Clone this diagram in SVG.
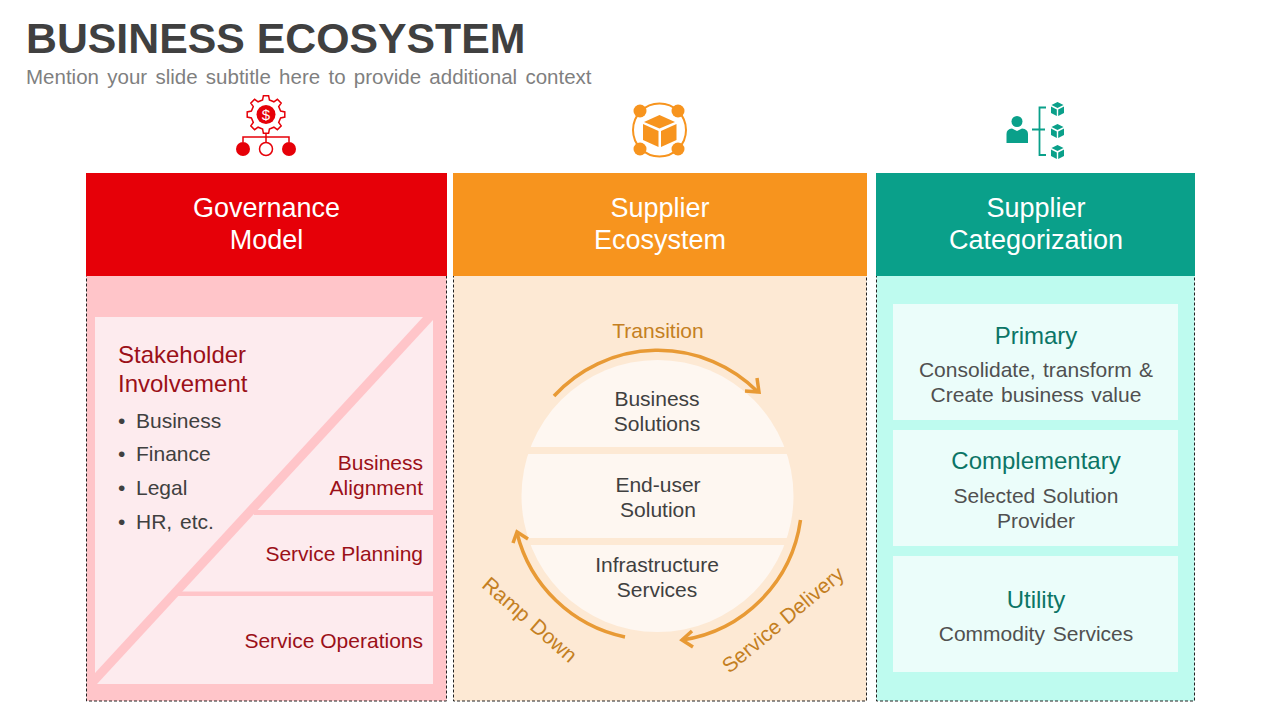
<svg xmlns="http://www.w3.org/2000/svg" xmlns:xlink="http://www.w3.org/1999/xlink" width="1280" height="720" viewBox="0 0 1280 720">
<style>
text{font-family:"Liberation Sans",Arial,sans-serif}
.hd{font-size:27px;fill:#fff;text-anchor:middle}
.dash{stroke:#222;stroke-width:1;stroke-dasharray:3 2;fill:none}
.red{fill:#9B1018}
.redr{fill:#9B1018;font-size:21px;text-anchor:end}
.body{fill:#404040;font-size:21px}
.mid{text-anchor:middle}
.teal{fill:#0B7566;font-size:24px;text-anchor:middle}
.tbody{fill:#505050;font-size:21px;text-anchor:middle}
.orl{fill:#C47F22;font-size:21px}
.arc{fill:none;stroke:#E89A35;stroke-width:3.500}
.band{fill:#FFC5C9}
.disc{fill:#FEF7F1}
</style>
<defs>
<g id="cube" fill="#0AA08A">
<polygon points="0,-7 6,-4 0,-1 -6,-4"/>
<polygon points="-6.5,-2.5 -0.7,0.5 -0.7,7 -6.5,4"/>
<polygon points="6.5,-2.5 0.7,0.5 0.7,7 6.5,4"/>
</g>
</defs>
<rect width="1280" height="720" fill="#fff"/>
<g id="title">
<text x="26" y="53" font-size="42.800" font-weight="700" fill="#404040">BUSINESS ECOSYSTEM</text>
<text x="26" y="84" font-size="20.500" fill="#7F7F7F" word-spacing="2.600">Mention your slide subtitle here to provide additional context</text>
</g>
<g id="icon-governance">
<polygon transform="translate(266,114.500)" fill="none" stroke="#E60008" stroke-width="1.500" points="14.6,-3.4 18.8,-2.6 18.8,2.6 14.6,3.4 12.7,7.9 15.2,11.4 11.4,15.2 7.9,12.7 3.4,14.600 2.6,18.800 -2.600,18.800 -3.400,14.600 -7.900,12.700 -11.400,15.200 -15.200,11.400 -12.700,7.900 -14.600,3.400 -18.800,2.600 -18.800,-2.600 -14.600,-3.400 -12.700,-7.900 -15.200,-11.400 -11.400,-15.200 -7.900,-12.700 -3.400,-14.600 -2.600,-18.800 2.600,-18.800 3.400,-14.600 7.900,-12.700 11.400,-15.200 15.200,-11.400 12.700,-7.900"/>
<circle cx="266" cy="114.500" r="9.500" fill="#E60008"/>
<text x="266" y="120" font-size="15" fill="#fff" text-anchor="middle">$</text>
<path d="M266 133V142M243 142V137H289V142" fill="none" stroke="#E60008" stroke-width="1.500"/>
<circle cx="243" cy="149" r="7" fill="#E60008"/>
<circle cx="266" cy="149" r="6.500" fill="#fff" stroke="#E60008" stroke-width="1.500"/>
<circle cx="289" cy="149" r="7" fill="#E60008"/>
</g>
<g id="icon-ecosystem">
<circle cx="659.500" cy="130" r="26.500" fill="none" stroke="#F7941E" stroke-width="2"/>
<g fill="#F7941E">
<circle cx="640" cy="111" r="6.500"/>
<circle cx="678" cy="111" r="6.500"/>
<circle cx="640" cy="149" r="6.500"/>
<circle cx="678" cy="149" r="6.500"/>
<polygon points="659.500,115 675,122 659.500,128.500 644,122"/>
<polygon points="643,124 658.500,131 658.500,147 643,140"/>
<polygon points="661,131 676.500,124 676.500,140 661,147"/>
</g>
</g>
<g id="icon-categorization">
<circle cx="1017" cy="121.500" r="5.500" fill="#0AA08A"/>
<path d="M1006.500 143V134Q1006.500 129 1012 128.500L1017 131L1022 128.500Q1028 129 1028 134V143Z" fill="#0AA08A"/>
<path d="M1046 107.500H1039.500V155H1046M1032 129.500H1045" fill="none" stroke="#0AA08A" stroke-width="1.800"/>
<use xlink:href="#cube" href="#cube" x="1057.500" y="109"/>
<use xlink:href="#cube" href="#cube" x="1057.500" y="131"/>
<use xlink:href="#cube" href="#cube" x="1057.500" y="152"/>
</g>
<g id="governance">
<rect x="86.500" y="275.500" width="360" height="425.500" fill="#FFC5C9"/>
<rect class="dash" x="86.500" y="275.500" width="360" height="425.500"/>
<rect x="86" y="173" width="361" height="103" fill="#E60008"/>
<text class="hd"><tspan x="266.500" y="217">Governance</tspan><tspan x="266.500" y="249">Model</tspan></text>
<rect x="95" y="317" width="338" height="367" fill="#FDEBEE"/>
<polygon class="band" points="423,317 433,317 433,320 97,684 95,684 95,673"/>
<rect class="band" x="254" y="510" width="179" height="5"/>
<rect class="band" x="176" y="591.500" width="257" height="4.500"/>
<text class="red" font-size="24"><tspan x="118" y="363">Stakeholder</tspan><tspan x="118" y="392">Involvement</tspan></text>
<text class="body"><tspan x="118" y="428">•</tspan><tspan x="136" y="428">Business</tspan><tspan x="118" y="461">•</tspan><tspan x="136" y="461">Finance</tspan><tspan x="118" y="495">•</tspan><tspan x="136" y="495">Legal</tspan><tspan x="118" y="529">•</tspan><tspan x="136" y="529" word-spacing="2">HR, etc.</tspan></text>
<text class="redr"><tspan x="423" y="470">Business</tspan><tspan x="423" y="495">Alignment</tspan></text>
<text class="redr" x="423" y="561">Service Planning</text>
<text class="redr" x="423" y="648">Service Operations</text>
</g>
<g id="ecosystem">
<rect x="453.500" y="275.500" width="413" height="425.500" fill="#FDE9D4"/>
<rect class="dash" x="453.500" y="275.500" width="413" height="425.500"/>
<rect x="453" y="173" width="414" height="103" fill="#F7941E"/>
<text class="hd"><tspan x="660" y="217">Supplier</tspan><tspan x="660" y="249">Ecosystem</tspan></text>
<circle class="disc" cx="657.500" cy="496" r="136"/>
<rect x="515" y="447" width="285" height="7" fill="#FDE9D4"/>
<rect x="515" y="538" width="285" height="7" fill="#FDE9D4"/>
<text class="body mid"><tspan x="657" y="406">Business</tspan><tspan x="657" y="431">Solutions</tspan></text>
<text class="body mid"><tspan x="658" y="492">End-user</tspan><tspan x="658" y="517">Solution</tspan></text>
<text class="body mid"><tspan x="657" y="572">Infrastructure</tspan><tspan x="657" y="597">Services</tspan></text>
<text class="orl mid" x="658" y="338">Transition</text>
<text class="orl mid" transform="translate(525,625) rotate(41)" word-spacing="2">Ramp Down</text>
<text class="orl mid" transform="translate(783,620) rotate(-40)" y="7">Service Delivery</text>
</g>
<g id="connectors">
<path class="arc" d="M554 396A141 141 0 0 1 758 392"/>
<path class="arc" d="M745 391L759 392L757 378"/>
<path class="arc" d="M800.500 520A141 141 0 0 1 682 640"/>
<path class="arc" d="M692 631L682 640L693 647"/>
<path class="arc" d="M625 637A141 141 0 0 1 517 533"/>
<path class="arc" d="M513 543L517 532L528 539"/>
</g>
<g id="categorization">
<rect x="876.500" y="275.500" width="318" height="425.500" fill="#BEFBEF"/>
<rect class="dash" x="876.500" y="275.500" width="318" height="425.500"/>
<rect x="876" y="173" width="319" height="103" fill="#0AA08A"/>
<text class="hd"><tspan x="1036" y="217">Supplier</tspan><tspan x="1036" y="249">Categorization</tspan></text>
<rect x="893" y="304" width="285" height="116" fill="#EBFDFA"/>
<rect x="893" y="430" width="285" height="116" fill="#EBFDFA"/>
<rect x="893" y="556" width="285" height="116" fill="#EBFDFA"/>
<text class="teal" x="1036" y="344">Primary</text>
<text class="tbody" word-spacing="1.500"><tspan x="1036" y="377">Consolidate, transform &amp;</tspan><tspan x="1036" y="402">Create business value</tspan></text>
<text class="teal" x="1036" y="469">Complementary</text>
<text class="tbody" word-spacing="1.500"><tspan x="1036" y="503">Selected Solution</tspan><tspan x="1036" y="528">Provider</tspan></text>
<text class="teal" x="1036" y="608">Utility</text>
<text class="tbody" x="1036" y="641" word-spacing="2">Commodity Services</text>
</g>
</svg>
